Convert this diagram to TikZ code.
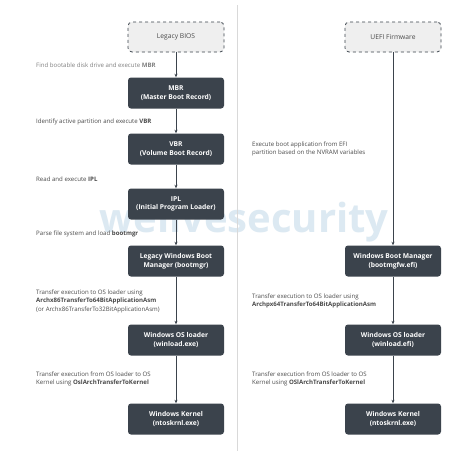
\documentclass[tikz,border=0pt]{standalone}
\usepackage{fontspec}
\setmainfont{Open Sans}
\usepackage{xcolor}
\usetikzlibrary{arrows.meta}
\definecolor{boxdark}{HTML}{3B434C}
\definecolor{boxlight}{HTML}{EFEFEF}
\definecolor{labelgray}{HTML}{4A4A4A}
\definecolor{wmblue}{HTML}{DCE9F2}
\tikzset{
  stagebox/.style={draw=none,fill=boxdark,rounded corners=3pt,minimum width=96pt,minimum height=31pt,
    align=center,text=white,font=\fontsize{6.7}{8.6}\selectfont\bfseries},
  firmbox/.style={draw=boxdark,dashed,line width=0.8pt,fill=boxlight,rounded corners=4pt,minimum width=96pt,
    minimum height=30pt,align=center,text=labelgray,font=\fontsize{6.7}{8.6}\selectfont},
  steplabel/.style={anchor=west,align=left,text=labelgray,font=\fontsize{6.1}{8.6}\selectfont,inner sep=0pt},
  flow/.style={-{Stealth[length=3.5pt,width=3pt]},draw=boxdark,line width=0.6pt},
}
\begin{document}
\begin{tikzpicture}[x=1pt,y=-1pt]
  \useasboundingbox (0,0) rectangle (474,456);
  \fill[white] (0,0) rectangle (474,456);

  % watermark
  \node[text=wmblue,font=\fontsize{40}{40}\selectfont\bfseries,inner sep=0pt] (mark) at (244,222) {welivesecurity};

  % divider
  \draw[gray!30,line width=0.8pt] (237,5) -- (237,451);

  % legacy boot
  \node[firmbox] (bios) at (176,37) {Legacy BIOS};
  \node[stagebox] (mbr) at (176,93) {MBR\\(Master Boot Record)};
  \node[stagebox] (vbr) at (176,149) {VBR\\(Volume Boot Record)};
  \node[stagebox] (ipl) at (176,204) {IPL\\(Initial Program Loader)};
  \node[stagebox] (bootmgr) at (176,261) {Legacy Windows Boot\\Manager (bootmgr)};
  \node[stagebox] (winload) at (176,340) {Windows OS loader\\(winload.exe)};
  \node[stagebox] (kernel) at (176,419) {Windows Kernel\\(ntoskrnl.exe)};

  \draw[flow] (bios) -- (mbr);
  \draw[flow] (mbr) -- (vbr);
  \draw[flow] (vbr) -- (ipl);
  \draw[flow] (ipl) -- (bootmgr);
  \draw[flow] (bootmgr) -- (winload);
  \draw[flow] (winload) -- (kernel);

  \node[steplabel,text=gray] (l1) at (36,65) {Find bootable disk drive and execute \textbf{MBR}};
  \node[steplabel] (l2) at (36,122) {Identify active partition and execute \textbf{VBR}};
  \node[steplabel] (l3) at (36,179) {Read and execute \textbf{IPL}};
  \node[steplabel] (l4) at (36,234) {Parse file system and load \textbf{bootmgr}};
  \node[steplabel] (l5) at (36,301) {Transfer execution to OS loader using\\\textbf{Archx86TransferTo64BitApplicationAsm}\\(or Archx86TransferTo32BitApplicationAsm)};
  \node[steplabel] (l6) at (36,379) {Transfer execution from OS loader to OS\\Kernel using \textbf{OslArchTransferToKernel}};

  % uefi boot
  \node[firmbox] (uefi) at (393,37) {UEFI Firmware};
  \node[stagebox] (bootmgfw) at (393,261) {Windows Boot Manager\\(bootmgfw.efi)};
  \node[stagebox] (winloadefi) at (393,340) {Windows OS loader\\(winload.efi)};
  \node[stagebox] (kernelefi) at (393,419) {Windows Kernel\\(ntoskrnl.exe)};

  \draw[flow] (uefi) -- (bootmgfw);
  \draw[flow] (bootmgfw) -- (winloadefi);
  \draw[flow] (winloadefi) -- (kernelefi);

  \node[steplabel] (r1) at (252,149) {Execute boot application from EFI\\partition based on the NVRAM variables};
  \node[steplabel] (r2) at (252,301) {Transfer execution to OS loader using\\\textbf{Archpx64TransferTo64BitApplicationAsm}};
  \node[steplabel] (r3) at (252,379) {Transfer execution from OS loader to OS\\Kernel using \textbf{OSlArchTransferToKernel}};
\end{tikzpicture}
\end{document}
